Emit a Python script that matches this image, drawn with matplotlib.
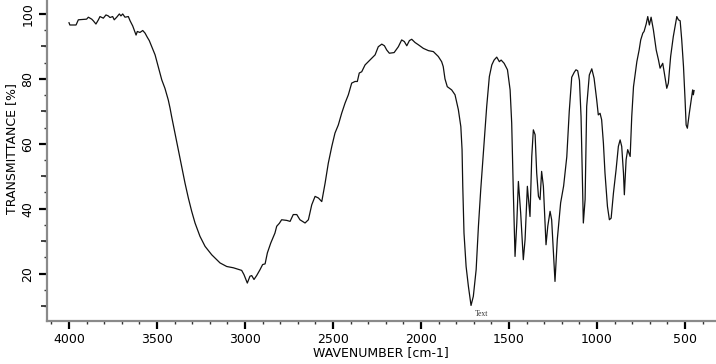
import matplotlib
matplotlib.use("Agg")
import matplotlib.pyplot as plt
from matplotlib.ticker import MultipleLocator, FixedLocator, NullFormatter

wavenumber = [
    4000, 3995, 3960, 3947, 3900, 3890, 3871, 3862, 3847, 3833, 3824, 3805, 3790, 3777,
    3767, 3752, 3743, 3729, 3714, 3705, 3695, 3682, 3663, 3653, 3638, 3619, 3612, 3597,
    3581, 3568, 3555, 3544, 3530, 3511, 3493, 3473, 3455, 3436, 3426,
    3417, 3398, 3379, 3360, 3341, 3322, 3303, 3284, 3256, 3227, 3189, 3142, 3104, 3066,
    3019, 3006, 2987, 2972, 2962, 2949, 2934, 2915, 2900, 2886, 2873, 2854, 2830, 2820,
    2805, 2792, 2763, 2744, 2726, 2706, 2688, 2659, 2640, 2621, 2602, 2583, 2564, 2545,
    2527, 2507, 2489, 2470, 2451, 2432, 2413, 2394, 2375, 2362, 2351, 2337, 2318, 2290,
    2261, 2243, 2223, 2208, 2195, 2180, 2153, 2129, 2110, 2095, 2081, 2066, 2053, 2034,
    2015, 1987, 1958, 1930, 1902, 1883, 1874, 1864, 1851, 1826, 1807, 1788, 1774, 1767,
    1763, 1756, 1744, 1731, 1716, 1703, 1687, 1674, 1661, 1646, 1627, 1612, 1598, 1585,
    1570, 1555, 1545, 1528, 1509, 1494, 1485, 1476, 1466, 1456, 1447, 1434, 1419, 1409,
    1396, 1381, 1371, 1362, 1352, 1343, 1333, 1324, 1315, 1305, 1290, 1280, 1267, 1258,
    1239, 1226, 1207, 1190, 1172, 1158, 1144, 1130, 1120, 1110, 1100, 1091, 1085, 1078,
    1068, 1059, 1044, 1030, 1017, 1002, 993, 983, 974, 964, 955, 941, 930, 920, 907, 892,
    879, 869, 860, 850, 845, 835, 826, 812, 803, 793, 774, 761, 752, 740, 733, 721, 712,
    703, 693, 680, 664, 651, 642, 627, 619, 604, 595, 582, 567, 557, 547, 538, 528, 519,
    509, 500, 494, 487, 476, 462, 457, 453, 449,
]

transmittance = [
    97.3, 96.6, 96.6, 98.2, 98.4, 99.0, 98.4, 97.9, 96.9, 98.2, 99.2, 98.7, 99.7, 99.4,
    98.9, 99.2, 98.2, 99.0, 100.0, 99.4, 100.0, 99.0, 99.2, 97.9, 96.3, 93.5, 94.6, 94.3,
    94.9, 94.1, 92.8, 91.8, 89.9, 87.4, 83.8, 79.7, 77.1, 73.5, 71.0,
    68.4, 63.3, 58.2, 53.0, 47.9, 43.3, 39.2, 35.6, 31.5, 28.4, 25.8, 23.3, 22.2, 21.8,
    21.0, 19.7, 17.1, 19.2, 19.4, 18.2, 19.4, 21.2, 22.8, 23.0, 26.4, 29.4, 32.5, 34.6,
    35.5, 36.6, 36.4, 36.1, 38.2, 38.2, 36.6, 35.6, 36.6, 41.2, 43.8, 43.3, 42.2, 47.9,
    54.0, 59.2, 63.3, 65.8, 69.4, 72.5, 75.1, 78.7, 79.2, 79.2, 81.8, 82.2, 84.3, 85.8,
    87.4, 89.9, 90.7, 90.2, 88.9, 87.9, 88.1, 89.9, 92.0, 91.5, 90.2, 91.8, 92.2, 91.2,
    90.5, 89.4, 88.7, 88.4, 86.9, 85.3, 83.8, 80.0, 77.6, 76.6, 75.1, 70.5, 65.3, 58.2,
    47.0, 32.5, 22.2, 16.1, 10.2, 13.0, 21.2, 34.6, 45.8, 57.1, 71.5, 80.7, 84.3, 85.8,
    86.7, 85.3, 85.8, 84.8, 82.8, 76.6, 66.4, 45.8, 25.3, 35.6, 48.4, 38.7, 24.3, 30.5,
    46.9, 37.6, 56.1, 64.3, 62.8, 51.0, 43.8, 42.8, 51.5, 46.9, 28.9, 34.6, 39.2, 36.6,
    17.6, 30.5, 41.8, 47.0, 56.0, 70.0, 80.5, 82.0, 82.8, 82.5, 79.5, 68.4, 53.0, 35.6,
    42.8, 71.5, 81.2, 83.1, 80.2, 73.5, 68.9, 69.4, 67.4, 60.2, 51.0, 40.7, 36.6, 37.1, 44.8, 52.0,
    59.2, 61.2, 59.2, 51.0, 44.3, 55.1, 58.2, 56.1, 68.4, 77.6, 85.3, 88.9, 92.0, 94.1, 94.6, 96.9, 99.2,
    96.6, 99.0, 95.1, 88.9, 85.8, 83.3, 84.8, 82.2, 77.1, 78.7, 86.9, 93.0, 96.1, 99.2, 98.2, 97.9, 92.0,
    83.8, 73.5, 65.8, 64.8, 69.4, 74.6, 76.6, 75.1, 76.4,
]

x_ticks = [4000, 3500, 3000, 2500, 2000, 1500, 1000, 500]
y_ticks = [20, 40, 60, 80, 100]

W, H = 716, 364
fig = plt.figure(figsize=(W / 100, H / 100), dpi=100)
ax = fig.add_axes([47 / W, (H - 320.7) / H, 668 / W, 320.7 / H])

ax.plot(wavenumber, transmittance, color="#111111", lw=0.9)

ax.set_xlim(4125, 330)
ax.set_ylim(5.5, 104.3)

for s in ["top", "right"]:
    ax.spines[s].set_visible(False)
for s in ["left", "bottom"]:
    ax.spines[s].set_color("#8a8a8a")
    ax.spines[s].set_linewidth(1.6)

ax.xaxis.set_major_locator(FixedLocator(x_ticks))
ax.xaxis.set_minor_locator(MultipleLocator(100))
ax.yaxis.set_major_locator(FixedLocator(y_ticks))
ax.yaxis.set_minor_locator(MultipleLocator(5))

ax.tick_params(axis="both", which="major", direction="out", length=6, width=1.6,
               color="black", labelsize=9, labelcolor="black")
ax.tick_params(axis="both", which="minor", direction="out", length=2.5, width=1.0,
               color="#333333")
ax.tick_params(axis="x", which="major", pad=3)
ax.tick_params(axis="y", which="major", labelrotation=90, pad=3)
for lab in ax.get_yticklabels():
    lab.set_va("center")

sec = ax.secondary_yaxis("left")
sec.set_yticks([10, 30, 50, 70, 90])
sec.yaxis.set_major_formatter(NullFormatter())
sec.tick_params(length=4, width=1.2, color="#222222")
sec.spines["left"].set_visible(False)

fig.text(12 / W, 1 - 149 / H, "TRANSMITTANCE [%]", rotation=90, ha="center", va="center",
         fontsize=9, color="black")
fig.text(381 / W, 1 - 353 / H, "WAVENUMBER [cm-1]", ha="center", va="center",
         fontsize=9, color="black")

ax.annotate("Text", xy=(1716, 10.2), xytext=(3, -3), textcoords="offset points",
            ha="left", va="top", fontsize=5.5, family="Liberation Serif", color="#333333")

fig.savefig("out.png", dpi=100)
